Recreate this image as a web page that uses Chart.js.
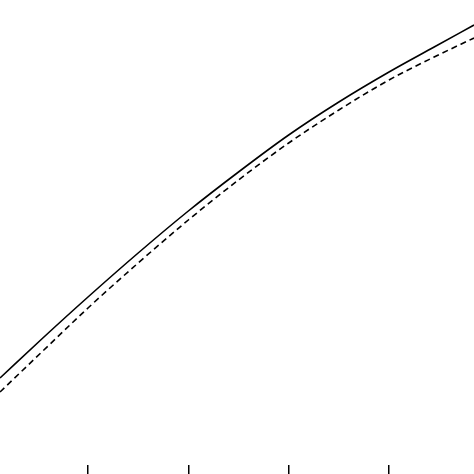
<!DOCTYPE html>
<html>
<head>
<meta charset="utf-8">
<script src="https://cdn.jsdelivr.net/npm/chart.js@4"></script>
<style>
html,body{margin:0;padding:0;background:#fff;}
#wrap{width:474px;height:474px;}
</style>
</head>
<body>
<div id="wrap"><canvas id="c"></canvas></div>
<script>
const xValues = [0.123, 0.55, 1, 1.5, 2, 2.5, 3, 3.5, 4, 4.45, 4.847];
const solidValues = [0.87, 1.27, 1.68, 2.12, 2.54, 2.93, 3.30, 3.63, 3.93, 4.18, 4.40];
const dashedValues = [0.73, 1.14, 1.57, 2.02, 2.45, 2.85, 3.22, 3.55, 3.85, 4.08, 4.27];
const xTicks = [1, 2, 3, 4];

const toPts = (xs, ys) => xs.map((x, i) => ({x: x, y: ys[i]}));

new Chart(document.getElementById('c'), {
  type: 'line',
  data: {
    datasets: [
      {data: toPts(xValues, solidValues), borderColor: '#000', borderWidth: 1.6, pointRadius: 0, tension: 0.4, cubicInterpolationMode: 'monotone', fill: false},
      {data: toPts(xValues, dashedValues), borderColor: '#000', borderWidth: 1.6, borderDash: [6, 4], pointRadius: 0, tension: 0.4, cubicInterpolationMode: 'monotone', fill: false}
    ]
  },
  options: {
    responsive: true,
    maintainAspectRatio: false,
    animation: false,
    layout: {padding: 0},
    plugins: {legend: {display: false}, tooltip: {enabled: false}},
    scales: {
      x: {
        type: 'linear',
        min: 0.123,
        max: 4.847,
        afterBuildTicks: (s) => { s.ticks = xTicks.map(v => ({value: v})); },
        ticks: {display: false},
        grid: {drawOnChartArea: false, drawTicks: true, tickLength: 9, color: '#000', lineWidth: 1.5},
        border: {display: false}
      },
      y: {
        display: false,
        min: 0,
        max: 4.65
      }
    }
  }
});
</script>
</body>
</html>
